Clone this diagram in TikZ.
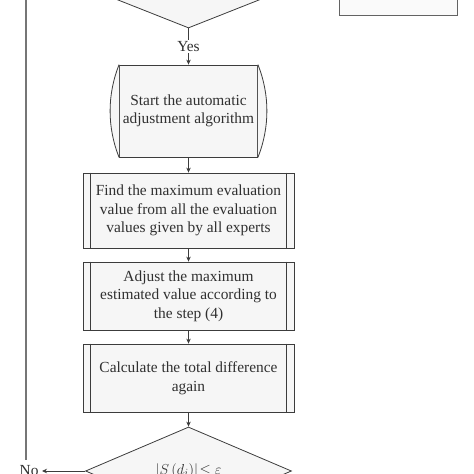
\documentclass[tikz,border=0pt]{standalone}
\usepackage{fontspec}
\setmainfont{Liberation Serif}
\usetikzlibrary{shapes.geometric,arrows.meta}
\definecolor{ln}{HTML}{3C3C3C}
\definecolor{bx}{HTML}{F6F6F6}
\begin{document}
\begin{tikzpicture}[x=1pt,y=-1pt,
  txt/.style={font=\fontsize{15.4}{18.5}\selectfont, align=center, text=ln!80!black},
  procbox/.style={txt, draw=ln, fill=bx, line width=0.8pt, minimum width=211pt, inner sep=0pt},
  decbox/.style={txt, draw=ln, fill=bx, line width=0.8pt, diamond, inner sep=0pt},
  arr/.style={draw=ln, line width=0.8pt, -{Stealth[length=5pt,width=4.5pt]}},
  lbl/.style={txt, fill=white, inner sep=1pt}]
\useasboundingbox (0,0) rectangle (474,474);
\clip (0,0) rectangle (474,474);
% top decision (cut off)
\node[decbox, minimum width=222pt, minimum height=88pt] (d1) at (188.5,-16) {};
% right box (cut off)
\node[draw=ln!80, fill=bx!60!white, line width=0.8pt, minimum width=118pt, minimum height=30pt, inner sep=0pt] (rb) at (398,0) {};
% start box
\node[txt, draw=ln, fill=bx, line width=0.8pt, minimum width=138pt, minimum height=92pt, inner sep=0pt] (start) at (188.5,111) {Start the automatic\\adjustment algorithm};
\draw[draw=ln, line width=0.8pt, fill=bx] (start.north west) .. controls +(-12,30) and +(-12,-30) .. (start.south west);
\draw[draw=ln, line width=0.8pt, fill=bx] (start.north east) .. controls +(12,30) and +(12,-30) .. (start.south east);
% process boxes
\node[procbox, minimum height=75pt] (find) at (188.5,210.5) {Find the maximum evaluation\\value from all the evaluation\\values given by all experts};
\node[procbox, minimum height=68pt] (adj) at (188.5,296) {Adjust the maximum\\estimated value according to\\the step (4)};
\node[procbox, minimum height=68pt] (calc) at (188.5,378) {Calculate the total difference\\again};
\foreach \n in {find,adj,calc}{
  \draw[draw=ln, line width=0.8pt] ([xshift=8pt]\n.north west) -- ([xshift=8pt]\n.south west);
  \draw[draw=ln, line width=0.8pt] ([xshift=-8pt]\n.north east) -- ([xshift=-8pt]\n.south east);
}
% bottom decision
\node[decbox, minimum width=206pt, minimum height=88pt] (d2) at (188.5,471) {$|S\,(d_i)|\!\le\varepsilon$};
% connectors
\draw[arr] (d1.south) -- node[lbl] (yes) {Yes} (start.north);
\draw[arr] (start) -- (find);
\draw[arr] (find) -- (adj);
\draw[arr] (adj) -- (calc);
\draw[arr] (calc) -- (d2.north);
\coordinate (noend) at (42,471);
\draw[arr] (d2.west) -- (noend);
\node[txt, anchor=east] (no) at (noend) {No};
\coordinate (lt) at (26,0);
\coordinate (lb) at (26,460);
\draw[draw=ln!70, line width=1.3pt] (lt) -- (lb);
\end{tikzpicture}
\end{document}
